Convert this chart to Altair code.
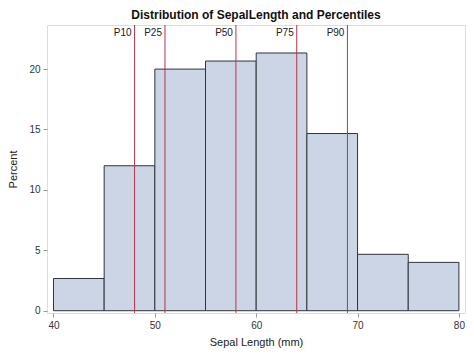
import altair as alt
import pandas as pd

bin_start = [40, 45, 50, 55, 60, 65, 70, 75]
bin_end = [45, 50, 55, 60, 65, 70, 75, 80]
percent = [2.667, 12.0, 20.0, 20.667, 21.333, 14.667, 4.667, 4.0]

pct_labels = ["P10", "P25", "P50", "P75", "P90"]
pct_values = [48, 51, 58, 64, 69]

bars_df = pd.DataFrame({"start": bin_start, "end": bin_end, "pct": percent})
pct_df = pd.DataFrame({"label": pct_labels, "value": pct_values})

FONT = "Liberation Sans"
xscale = alt.Scale(domain=[39.36, 80.6], nice=False, zero=False)
yscale = alt.Scale(domain=[-0.19, 23.65], nice=False, zero=False)

bars = alt.Chart(bars_df).mark_bar(
    fill="#cbd5e5", stroke="#30343c", strokeWidth=1
).encode(
    x=alt.X("start:Q", scale=xscale, title="Sepal Length (mm)",
            axis=alt.Axis(values=[40, 50, 60, 70, 80], grid=False, domain=False,
                          tickColor="#999999", tickSize=4, labelFont=FONT,
                          labelFontSize=10, labelColor="#333333", titleFont=FONT,
                          titleFontSize=11, titleFontWeight="normal",
                          titleColor="#222222", titlePadding=6, labelPadding=3)),
    x2="end:Q",
    y=alt.Y("pct:Q", scale=yscale, title="Percent",
            axis=alt.Axis(values=[0, 5, 10, 15, 20], grid=False, domain=False,
                          tickColor="#999999", tickSize=4, labelFont=FONT,
                          labelFontSize=10, labelColor="#333333", titleFont=FONT,
                          titleFontSize=11, titleFontWeight="normal",
                          titleColor="#222222", titlePadding=10, labelPadding=3)),
    y2=alt.datum(0),
)

rules = alt.Chart(pct_df).mark_rule(color="#b83448", strokeWidth=1).encode(
    x=alt.X("value:Q", scale=xscale),
)

texts = alt.Chart(pct_df).mark_text(
    align="right", baseline="middle", dx=-3, font=FONT, fontSize=10, color="#222222"
).encode(
    x=alt.X("value:Q", scale=xscale),
    y=alt.value(8),
    text="label:N",
)

chart = alt.layer(bars, rules, texts).properties(
    width=418,
    height=288,
    title=alt.TitleParams("Distribution of SepalLength and Percentiles", font=FONT,
                          fontSize=12, fontWeight="bold", color="#111111",
                          anchor="middle", offset=3),
    autosize=alt.AutoSizeParams(type="none"),
    padding={"left": 47, "top": 25, "right": 9, "bottom": 42},
).configure_view(stroke="#a8a8a8", strokeWidth=1).configure(background="white")

chart.save("out.html", embed_options={"renderer": "svg", "actions": False})
